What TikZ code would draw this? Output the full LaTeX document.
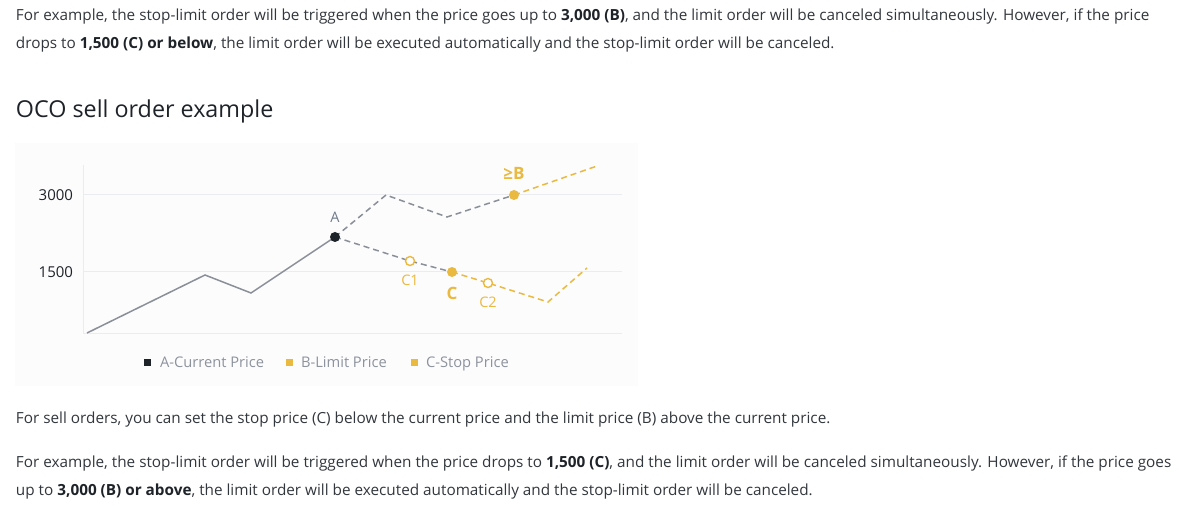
\documentclass[tikz,border=0pt]{standalone}
\usepackage{fontspec}
\setmainfont{Open Sans}
\usetikzlibrary{positioning}
\definecolor{inkdark}{HTML}{1E2329}
\definecolor{inkbody}{HTML}{32373E}
\definecolor{axisgrey}{HTML}{707A8A}
\definecolor{legendgrey}{HTML}{8D939E}
\definecolor{gridline}{HTML}{EAECEF}
\definecolor{pathgrey}{HTML}{8A8F98}
\definecolor{ocoyellow}{HTML}{EAB940}
\definecolor{chartbg}{HTML}{FCFCFD}
\begin{document}
\begin{tikzpicture}[x=1pt, y=-1pt,
	every node/.style={inner sep=0pt, outer sep=0pt},
	bodyline/.style={anchor=base west, text=inkbody, font=\fontsize{15.3}{18}\selectfont},
	ticklabel/.style={anchor=base east, text=inkdark, font=\fontsize{15}{17}\selectfont},
	legendtext/.style={anchor=base west, text=legendgrey, font=\fontsize{14.7}{17}\selectfont},
	pointlabel/.style={text=ocoyellow, font=\fontsize{14}{16}\selectfont},
	dot/.style={circle, minimum size=10pt, fill=ocoyellow},
	ring/.style={circle, minimum size=10pt, draw=ocoyellow, line width=1.4pt, fill=white},
	solidpath/.style={draw=pathgrey, line width=1.5pt},
	greydash/.style={draw=pathgrey, line width=1.5pt, dash pattern=on 6pt off 4pt},
	yellowdash/.style={draw=ocoyellow, line width=1.5pt, dash pattern=on 6pt off 4pt}]
	\useasboundingbox (0,0) rectangle (1186,510);
	\fill[white] (0,0) rectangle (1186,510);
		% text above the chart
		\node[bodyline] (l1) at (16,21) {For example, the stop-limit order will be triggered when the price goes up to \textcolor{inkdark}{\bfseries 3,000 (B)}, and the limit order will be canceled simultaneously. However, if the price};
		\node[bodyline] (l2) at (16,49) {drops to \textcolor{inkdark}{\bfseries 1,500 (C) or below}, the limit order will be executed automatically and the stop-limit order will be canceled.};
		\node[anchor=base west, text=inkdark, font=\fontsize{23.3}{27}\selectfont] (title) at (16,118) {OCO sell order example};
		% chart frame
		\fill[chartbg] (15,143) rectangle (638,386);
		\draw[gridline, line width=1pt] (83,165) -- (83,334) -- (622,334);
		\draw[gridline, line width=1pt] (83,195) -- (622,195);
		\draw[gridline, line width=1pt] (83,272) -- (622,272);
		\node[ticklabel] (t3000) at (73,201) {3000};
		\node[ticklabel] (t1500) at (73,278) {1500};
		% price path
		\coordinate (p0) at (87,333);
		\coordinate (p1) at (205,275);
		\coordinate (p2) at (251,293);
		\coordinate (up1) at (386,195);
		\coordinate (up2) at (447,217);
		\coordinate (upend) at (597,166);
		\coordinate (low) at (548,302);
		\coordinate (lowend) at (587,268);
		\node[circle, minimum size=10pt] (A) at (335,237) {};
		\node[circle, minimum size=10pt] (B) at (514,195) {};
		\node[circle, minimum size=10pt] (C1) at (410,261) {};
		\node[circle, minimum size=10pt] (C) at (452,272) {};
		\node[circle, minimum size=10pt] (C2) at (488,283) {};
		\draw[solidpath] (p0) -- (p1) -- (p2) -- (A.center);
		\draw[greydash] (A.center) -- (up1) -- (up2) -- (B.center);
		\draw[yellowdash] (B.center) -- (upend);
		\draw[greydash] (A.center) -- (C1.center) -- (C.center);
		\draw[yellowdash] (C.center) -- (C2.center) -- (low) -- (lowend);
		\node[circle, minimum size=10pt, fill=inkdark] at (A) {};
		\node[dot] at (B) {};
		\node[ring, minimum size=9pt] at (C1) {};
		\node[dot] at (C) {};
		\node[ring, minimum size=9pt] at (C2) {};
		\node[text=axisgrey, font=\fontsize{14.5}{16}\selectfont, above=9pt of A] (Alab) {A};
		\node[pointlabel, font=\fontsize{17}{20}\selectfont\bfseries, above=10pt of B] (Blab) {≥B};
		\node[pointlabel, font=\fontsize{14.5}{16}\selectfont, below=9pt of C1] (C1lab) {C1};
		\node[pointlabel, font=\fontsize{17}{20}\selectfont\bfseries, below=10pt of C] (Clab) {C};
		\node[pointlabel, font=\fontsize{14.5}{16}\selectfont, below=9pt of C2] (C2lab) {C2};
		% legend
		\node[fill=inkdark, minimum size=7pt] (ka) at (147,363) {};
		\node[legendtext] (la) at (160,368) {A-Current Price};
		\node[fill=ocoyellow, minimum size=7pt] (kb) at (289,363) {};
		\node[legendtext] (lb) at (301,368) {B-Limit Price};
		\node[fill=ocoyellow, minimum size=7pt] (kc) at (414,363) {};
		\node[legendtext] (lc) at (426,368) {C-Stop Price};
		% text below the chart
		\node[bodyline] (l3) at (16,423) {For sell orders, you can set the stop price (C) below the current price and the limit price (B) above the current price.};
		\node[bodyline] (l4) at (16,467) {For example, the stop-limit order will be triggered when the price drops to \textcolor{inkdark}{\bfseries 1,500 (C)}, and the limit order will be canceled simultaneously. However, if the price goes};
		\node[bodyline] (l5) at (16,495) {up to \textcolor{inkdark}{\bfseries 3,000 (B) or above}, the limit order will be executed automatically and the stop-limit order will be canceled.};
\end{tikzpicture}
\end{document}
